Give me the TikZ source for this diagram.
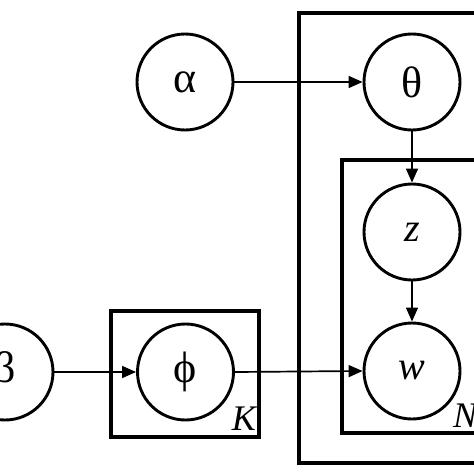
\documentclass[tikz,border=0pt]{standalone}
\usepackage{fontspec}
\setmainfont{Liberation Serif}
\usetikzlibrary{arrows.meta}
\begin{document}
\begin{tikzpicture}[x=1pt,y=-1pt,
  var/.style={circle,draw,line width=2.9pt,minimum size=96pt,inner sep=0pt,font=\fontsize{44}{46}\selectfont},
  ivar/.style={var,font=\fontsize{40}{42}\selectfont\itshape},
  plate/.style={draw,line width=3.2pt},
  arr/.style={line width=1.7pt,-{Triangle[length=14pt,width=12pt]}},
  lab/.style={font=\fontsize{36}{38}\selectfont\itshape,inner sep=0pt}]
\useasboundingbox (0,0) rectangle (474,474);
\clip (0,0) rectangle (474,474);
\fill[white] (0,0) rectangle (474,474);
% plates
\draw[plate] (490,13) -- (299,13) -- (299,463) -- (490,463);
\draw[plate] (490,160) -- (342,160) -- (342,433) -- (490,433);
\draw[plate] (111,311) rectangle (259,437);
\node[lab,anchor=base east] (klab) at (256,430) {K};
\node[lab,anchor=base west] (nlab) at (453,427) {N};
% variables
\node[var] (alpha) at (185,82) {α};
\node[var] (theta) at (412,82) {θ};
\node[ivar] (z) at (412,232) {z};
\node[ivar] (w) at (412,371) {w};
\node[var] (phi) at (185.5,372) {ϕ};
\node[var] (beta) at (5,372) {β};
% edges
\draw[arr] (alpha) -- (theta);
\draw[arr] (theta) -- (z);
\draw[arr] (z) -- (w);
\draw[arr] (beta.east) -- (phi.west);
\draw[arr] (phi.east) -- (w.west);
\end{tikzpicture}
\end{document}
